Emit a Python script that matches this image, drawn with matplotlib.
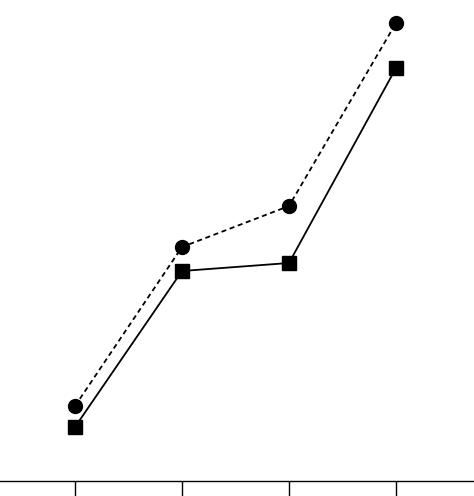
import matplotlib
matplotlib.use("Agg")
import matplotlib.pyplot as plt

# values (arbitrary units, 0 = axis line)
x_pos = [1, 2, 3, 4]
dashed_vals = [75, 234, 275, 458]
solid_vals = [54, 210, 218, 413]

fig = plt.figure(figsize=(4.74, 4.96), dpi=100)
ax = fig.add_axes([0, 15 / 496, 1, 481 / 496])

ax.plot(x_pos, dashed_vals, color='black', linestyle=(0, (2.8, 2.0)), linewidth=1.3,
        marker='o', markersize=10, clip_on=False)
ax.plot(x_pos, solid_vals, color='black', linestyle='-', linewidth=1.3,
        marker='s', markersize=10, clip_on=False)

ax.set_xlim(1 - 75 / 107, 1 + (474 - 75) / 107)
ax.set_ylim(0, 481)

for side in ['top', 'left', 'right']:
    ax.spines[side].set_visible(False)
ax.spines['bottom'].set_linewidth(1.0)

ax.set_xticks(x_pos)
ax.set_xticklabels([])
ax.tick_params(axis='x', direction='out', length=12, width=1.0)
ax.set_yticks([])

fig.savefig('out.png', dpi=100)
